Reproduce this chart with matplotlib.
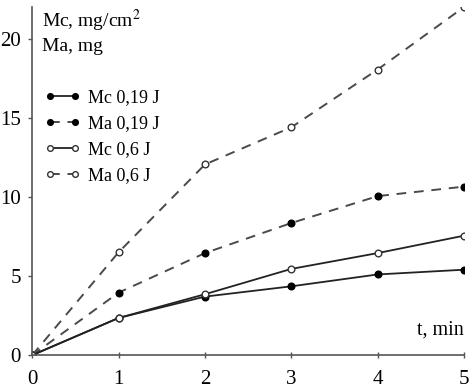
import numpy as np
from matplotlib import pyplot as plt

plt.rcParams['font.family'] = ['Liberation Serif', 'DejaVu Serif']
plt.rcParams['mathtext.fontset'] = 'stix'

t = [0, 1, 2, 3, 4, 5]
mc_019 = [0, 2.35, 3.7, 4.35, 5.1, 5.4]
ma_019 = [0, 3.95, 6.45, 8.35, 10.05, 10.65]
mc_06 = [0, 2.35, 3.85, 5.45, 6.45, 7.55]
ma_06 = [0, 6.5, 12.05, 14.4, 18.05, 22.0]

c_line = "#222222"
c_dash = "#4a4a4a"

fig = plt.figure(figsize=(4.74, 3.89), dpi=100)
ax = fig.add_axes([0.068, 0.087, 0.911, 0.895])

ms = 4.8
ax.plot(t, mc_019, '-', color=c_line, lw=1.3, marker='o', ms=ms, mfc='black', mec='black', label="Mc 0,19 J")
ax.plot(t, ma_019, '--', color=c_dash, lw=1.4, dashes=(5, 4), marker='o', ms=ms, mfc='black', mec='black', label="Ma 0,19 J")
ax.plot(t, mc_06, '-', color=c_line, lw=1.3, marker='o', ms=ms, mfc='white', mec='#333333', label="Mc 0,6 J")
ax.plot(t, ma_06, '--', color=c_dash, lw=1.4, dashes=(5, 4), marker='o', ms=ms, mfc='white', mec='#333333', label="Ma 0,6 J")

ax.set_xlim(0, 5)
ax.set_ylim(0, 22)
ax.set_xticks(range(6))
ax.set_yticks([0, 5, 10, 15, 20])
for s in ["top", "right"]:
    ax.spines[s].set_visible(False)
for s in ["left", "bottom"]:
    ax.spines[s].set_color("#555555")
    ax.spines[s].set_linewidth(1.2)
ax.tick_params(axis="x", direction="inout", length=5, width=1, color="#555555", labelsize=15, pad=8)
ax.tick_params(axis="y", direction="out", length=3, width=1, color="#555555", labelsize=15, pad=5)

ax.text(0.11, 21.1, "Mc, mg/cm$^2$", fontsize=14, va="center")
ax.text(0.11, 19.5, "Ma, mg", fontsize=14, va="center")
ax.text(5.0, 1.0, "t, min", fontsize=14.5, ha="right", va="bottom")

ax.legend(loc="upper left", bbox_to_anchor=(0.0, 0.8), frameon=False, fontsize=13,
          numpoints=2, markerscale=0.85, handlelength=1.95, handletextpad=0.45,
          labelspacing=0.5, borderaxespad=0.3)

plt.savefig("out.png")
